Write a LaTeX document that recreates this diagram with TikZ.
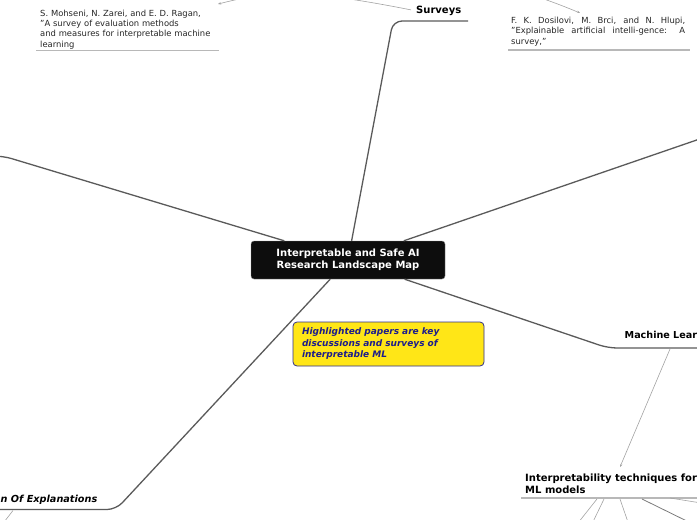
\documentclass[tikz,border=0pt]{standalone}
\usepackage{fontspec}
\setmainfont{DejaVu Sans}
\usetikzlibrary{arrows.meta}
\definecolor{branchgray}{HTML}{5A5A5A}
\definecolor{twiggray}{HTML}{A2A2A2}
\definecolor{rulegray}{HTML}{B8B8B8}
\definecolor{noteyellow}{HTML}{FFE617}
\definecolor{noteblue}{HTML}{2E2E8E}
\definecolor{notetext}{HTML}{1C1C8C}
\begin{document}
\begin{tikzpicture}[x=1pt, y=-1pt,
    central/.style={fill=black!95, draw=black!45, rounded corners=3pt, text=white,
        font=\fontsize{10}{12}\selectfont\bfseries, align=center,
        minimum width=194pt, minimum height=38pt, inner sep=0pt},
    note/.style={fill=noteyellow, draw=noteblue, line width=0.8pt, rounded corners=4pt,
        text=notetext, font=\fontsize{9}{11.5}\selectfont\bfseries\itshape, align=left,
        text width=173pt, minimum height=44pt, inner xsep=9pt, inner ysep=0pt},
    topic/.style={font=\fontsize{10}{12}\selectfont\bfseries, inner sep=0pt, align=left},
    paper/.style={font=\fontsize{8.4}{10.3}\selectfont, inner sep=0pt, text=black!85},
    branch/.style={draw=branchgray, line width=1.3pt, rounded corners=9pt},
    twig/.style={draw=twiggray, line width=0.6pt},
    leaf/.style={twig, -{Stealth[length=3pt, width=2.5pt]}},
    paperrule/.style={draw=rulegray, line width=1.2pt}]
    % Marco
    \useasboundingbox (0,0) rectangle (697,520);
    \clip (0,0) rectangle (697,520);

    % Nodo central
    \node[central] (root) at (348,260) {Interpretable and Safe AI\\Research Landscape Map};

    % Nota
    \node[note] (hint) at (388.5,344) {Highlighted papers are key\\discussions and surveys of\\interpretable ML};

    % Temas
    \node[topic, anchor=base west] (surveys) at (416,13.5) {Surveys};
    \node[topic, anchor=base west, font=\fontsize{9.6}{12}\selectfont\bfseries] (mlearn) at (624.5,338.5) {Machine Lear};
    \node[topic, anchor=north west] (interp) at (525,473.4) {Interpretability techniques for\\ML models};
    \node[topic, anchor=base west, font=\fontsize{9.7}{12}\selectfont\bfseries\itshape] (evalx) at (0.5,502.5) {n Of Explanations};

    % Articulos
    \node[paper, anchor=north west, align=left, text width=185pt] (mohseni) at (40,9.6)
        {S. Mohseni, N. Zarei, and E. D. Ragan,\\"A survey of evaluation methods\\and measures for interpretable machine\\learning};
    \node[paper, anchor=north west, align=justify, text width=174pt] (dosil) at (511,17)
        {F. K. Dosilovi, M. Brci, and N. Hlupi,\linebreak "Explainable artificial intelli-gence: A\linebreak survey,"};
    \coordinate (mohseni-l) at (36,50.5);
    \coordinate (mohseni-r) at (219,50.5);
    \coordinate (dosil-l) at (508,50);
    \coordinate (dosil-r) at (690,50);
    \draw[paperrule] (mohseni-l) -- (mohseni-r);
    \draw[paperrule] (dosil-l) -- (dosil-r);

    % Ramas principales
    \coordinate (sv-bend) at (393,21);
    \coordinate (sv-end) at (468,21);
    \draw[branch] (root) -- (sv-bend) -- (sv-end);

    \coordinate (ml-bend) at (608,348);
    \coordinate (ml-end) at (720,348);
    \draw[branch] (root) -- (ml-bend) -- (ml-end);

    \coordinate (ev-bend) at (116,509.5);
    \coordinate (ev-end) at (-40,509.5);
    \draw[branch] (root) -- (ev-bend) -- (ev-end);

    \coordinate (lf-bend) at (3,156);
    \coordinate (lf-end) at (-40,156);
    \draw[branch] (root) -- (lf-bend) -- (lf-end);

    \coordinate (rt-end) at (720,132);
    \draw[branch] (root) -- (rt-end);

    % Hacia los articulos
    \coordinate (mohseni-tip) at (218,4);
    \coordinate (dosil-tip) at (580,13);
    \draw[leaf, shorten <=5pt] (surveys.west) .. controls (300,-12) and (270,-9) .. (mohseni-tip);
    \draw[leaf, shorten <=7pt] (surveys.north) .. controls (440,-40) and (540,-4) .. (dosil-tip);

    % Machine Learning -> tecnicas
    \coordinate (ml-out) at (670,349);
    \coordinate (interp-tip) at (620,467);
    \draw[leaf] (ml-out) -- (interp-tip);

    % Subrayado de tecnicas y sus hijos
    \coordinate (interp-l) at (521,498);
    \coordinate (interp-r) at (720,498);
    \draw[paperrule] (interp-l) -- (interp-r);
    \coordinate (ip1) at (597,499);
    \coordinate (ip1-end) at (574,528);
    \coordinate (ip2) at (604,499);
    \coordinate (ip2-end) at (590,528);
    \coordinate (ip3) at (620,499);
    \coordinate (ip3-end) at (630,528);
    \coordinate (ip4) at (642,499);
    \coordinate (ip4-end) at (701,528);
    \coordinate (ip5) at (670,498);
    \coordinate (ip5-end) at (720,506);
    \draw[twig] (ip1) -- (ip1-end);
    \draw[twig] (ip2) -- (ip2-end);
    \draw[twig] (ip3) -- (ip3-end);
    \draw[twig, draw=branchgray!80, line width=0.8pt] (ip4) -- (ip4-end);
    \draw[twig] (ip5) -- (ip5-end);

    % Hijo de la evaluacion
    \coordinate (ev-out) at (13,510.5);
    \coordinate (ev-child) at (1,526);
    \draw[twig] (ev-out) -- (ev-child);
\end{tikzpicture}
\end{document}
